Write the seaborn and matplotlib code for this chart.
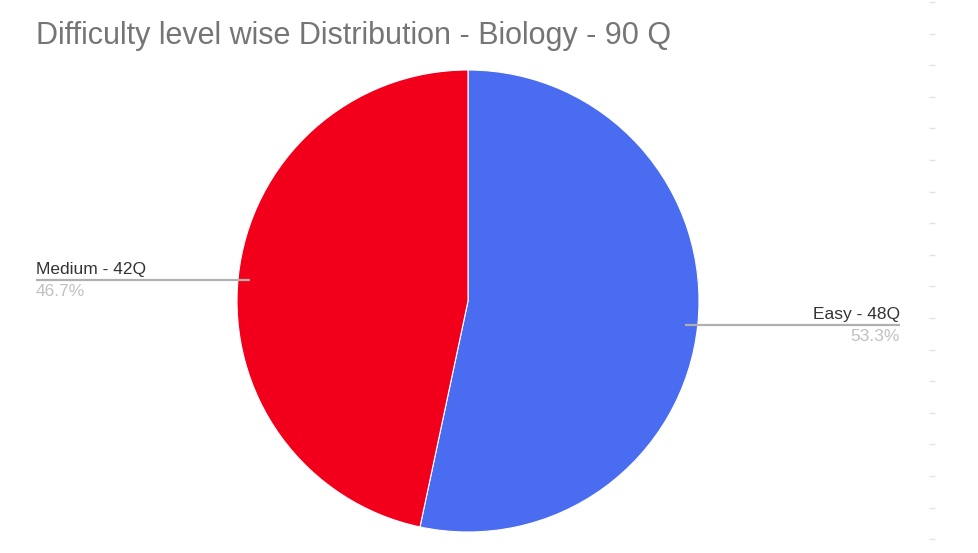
import matplotlib
matplotlib.use("Agg")
import matplotlib.pyplot as plt
import seaborn as sns

# data
labels = ["Easy - 48Q", "Medium - 42Q"]
counts = [48, 42]
colors = ["#4a6cf0", "#f2001b"]
title = "Difficulty level wise Distribution - Biology - 90 Q"

sns.set_theme(style="white")
plt.rcParams['font.family'] = ['Liberation Sans', 'DejaVu Sans']

W, H = 979, 553
fig = plt.figure(figsize=(W / 100, H / 100), dpi=100)
ax = fig.add_axes([0, 0, 1, 1])

cx, cy, r = 468, H - 301, 231
ax.pie(counts, colors=colors, startangle=90, counterclock=False,
       center=(cx, cy), radius=r, frame=True,
       wedgeprops=dict(edgecolor="white", linewidth=0.8))
ax.set_xlim(0, W)
ax.set_ylim(0, H)
ax.set_aspect("equal")
ax.axis("off")

total = sum(counts)
pcts = [f"{c / total * 100:.1f}%" for c in counts]

# Easy label on the right
y_e = H - 325
ax.plot([685, 900], [y_e, y_e], color="#b0b0b0", lw=1.6, solid_capstyle="butt")
ax.text(900, y_e + 3, labels[0], ha="right", va="bottom", fontsize=12.5,
        color="#333333")
ax.text(900, y_e - 4, pcts[0], ha="right", va="top", fontsize=12.5,
        color="#c0c0c0")

# Medium label on the left
y_m = H - 280
ax.plot([36, 250], [y_m, y_m], color="#b0b0b0", lw=1.6, solid_capstyle="butt")
ax.text(36, y_m + 3, labels[1], ha="left", va="bottom", fontsize=12.5,
        color="#333333")
ax.text(36, y_m - 4, pcts[1], ha="left", va="top", fontsize=12.5,
        color="#c0c0c0")

# faint tick marks at the right edge
tick_y = [H - 2 - 31.6 * i for i in range(18)]
ax.plot([932] * len(tick_y), tick_y, ls="none", marker="_", ms=5,
        mew=1, color="#e4e4e4")

fig.text(36 / W, 1 - 36 / H, title, ha="left", va="center", fontsize=22,
         color="#757575")

fig.savefig("out.png", dpi=100, facecolor="white")
